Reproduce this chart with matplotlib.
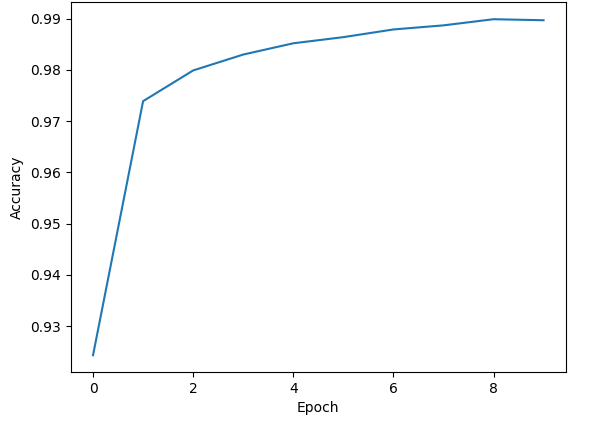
import matplotlib as mpl
mpl.use("Agg")
import matplotlib.pyplot as plt

epochs = list(range(10))
accuracy = [0.9243, 0.9739, 0.9799, 0.9830, 0.9852, 0.9864, 0.9879, 0.9887, 0.9899, 0.9897]

fig = plt.figure(figsize=(5.89, 4.24), dpi=100)
ax = fig.add_axes([0.1197, 0.1226, 0.8414, 0.8717])
ax.plot(epochs, accuracy)
ax.set_xlabel("Epoch")
ax.set_ylabel("Accuracy")

fig.savefig("out.png", dpi=100)
